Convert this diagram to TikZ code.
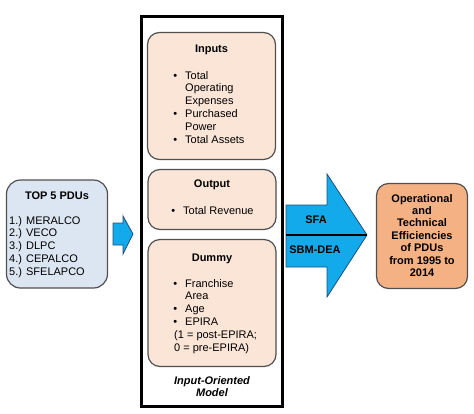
\documentclass[tikz,border=0pt]{standalone}
\usepackage{fontspec}
\setmainfont{Liberation Sans}
\definecolor{bluefill}{RGB}{220,230,242}
\definecolor{peachfill}{RGB}{251,229,214}
\definecolor{orangefill}{RGB}{244,177,131}
\definecolor{arrowfill}{RGB}{18,170,235}
\definecolor{arrowline}{RGB}{31,78,121}
\definecolor{boxline}{RGB}{80,80,80}
\newcommand\bul{\llap{\textbullet\hspace{8pt}}}
\tikzset{
  txt/.style={font=\fontsize{11}{12.8}\selectfont, inner sep=0},
  ttl/.style={font=\fontsize{11}{12.8}\selectfont\bfseries, inner sep=0, anchor=base},
  body/.style={txt, align=left, anchor=base west},
  peach/.style={draw=boxline, fill=peachfill, rounded corners=12, line width=1.2},
  blockarrow/.style={draw=arrowline, fill=arrowfill, line width=0.8},
}
\begin{document}
\begin{tikzpicture}[x=1pt,y=-1pt]
\useasboundingbox (0,0) rectangle (474,413);
% outer frame
\node[draw=black, line width=3, minimum width=141, minimum height=390, inner sep=0] (frame) at (212,211.5) {};
% inputs
\node[peach, minimum width=128, minimum height=127] (inputs) at (211.5,96) {};
\node[ttl] (inT) at (211.5,52) {Inputs};
\node[body] (inL) at (185,143) {\bul Total\\Operating\\Expenses\\\bul Purchased\\Power\\\bul Total Assets};
% output
\node[peach, minimum width=128, minimum height=60] (output) at (212,199.5) {};
\node[ttl] (outT) at (212,187) {Output};
\node[body] (outL) at (183,214) {\bul Total Revenue};
% dummy
\node[peach, minimum width=128, minimum height=127] (dummy) at (212,303) {};
\node[ttl] (dumT) at (212,261) {Dummy};
\node[body] (dumL) at (185,351) {\bul Franchise\\Area\\\bul Age\\\bul EPIRA\\\hspace*{-11pt}(1 = post-EPIRA;\\\hspace*{-11pt}0 = pre-EPIRA)};
% model label
\node[txt, font=\fontsize{11}{12.4}\selectfont\bfseries\itshape, align=center, anchor=base] (model) at (212,396.4) {Input-Oriented\\Model};
% left box
\node[draw=boxline, fill=bluefill, rounded corners=14, line width=1.2, minimum width=101, minimum height=108] (pdus) at (57,234) {};
\node[ttl] (pdusT) at (57,199) {TOP 5 PDUs};
\node[body] (pdusL) at (9,275.2) {1.) MERALCO\\2.) VECO\\3.) DLPC\\4.) CEPALCO\\5.) SFELAPCO};
% right box
\node[draw=boxline, fill=orangefill, rounded corners=12, line width=1.2, minimum width=91, minimum height=105] (result) at (422,236) {};
\node[ttl, font=\fontsize{11}{12.4}\selectfont\bfseries, align=center] (resT) at (422,276.4) {Operational\\and\\Technical\\Efficiencies\\of PDUs\\from 1995 to\\2014};
% small arrow
\draw[blockarrow] (113,223) -- (123,223) -- (123,216) -- (133,234) -- (123,254) -- (123,245) -- (113,245) -- cycle;
% big arrow
\draw[blockarrow] (286,205) -- (327,205) -- (327,174) -- (367,235) -- (327,297) -- (327,267) -- (286,267) -- cycle;
\coordinate (bl) at (286,235);
\coordinate (br) at (367,235);
\draw[black, line width=1.8] (bl) -- (br);
\node[ttl] (sfa) at (316,223) {SFA};
\node[ttl] (sbm) at (315,253) {SBM-DEA};
\end{tikzpicture}
\end{document}
